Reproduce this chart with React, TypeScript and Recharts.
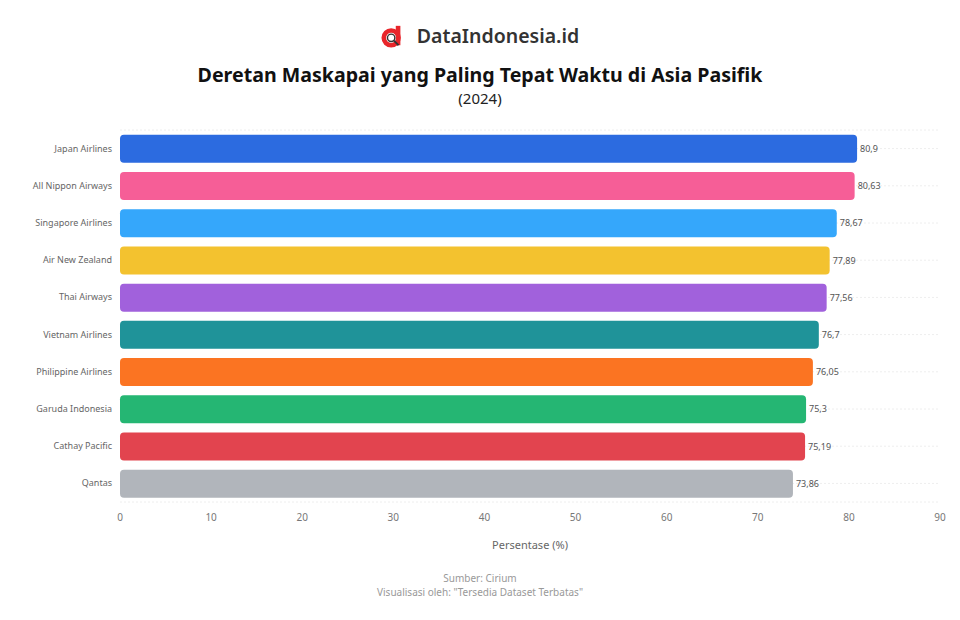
import { BarChart, Bar, XAxis, YAxis, CartesianGrid, Cell, LabelList } from "recharts"

const airlines = [
  "Japan Airlines",
  "All Nippon Airways",
  "Singapore Airlines",
  "Air New Zealand",
  "Thai Airways",
  "Vietnam Airlines",
  "Philippine Airlines",
  "Garuda Indonesia",
  "Cathay Pacific",
  "Qantas",
]
const onTime = [80.9, 80.63, 78.67, 77.89, 77.56, 76.7, 76.05, 75.3, 75.19, 73.86]
const barColors = [
  "#2c6be0",
  "#f65e97",
  "#35a7fb",
  "#f3c22f",
  "#a161dc",
  "#1f9399",
  "#fb7422",
  "#25b673",
  "#e2444f",
  "#b1b5bb",
]
const xTicks = [0, 10, 20, 30, 40, 50, 60, 70, 80, 90]

const data = airlines.map((name, i) => ({ name, value: onTime[i], color: barColors[i] }))

const font = "'Noto Sans', 'Open Sans', sans-serif"

function Logo() {
  return (
    <svg width={24} height={24} viewBox="0 0 26 26">
      <circle cx={11} cy={15} r={8} fill="none" stroke="#e8262b" strokeWidth={5} />
      <rect x={16} y={2} width={5} height={21} fill="#e8262b" />
      <circle cx={11} cy={15} r={4} fill="#fff" stroke="#333" strokeWidth={1.5} />
      <line x1={14} y1={18} x2={19} y2={23} stroke="#333" strokeWidth={2} />
    </svg>
  )
}

function AirlineTick(props: any) {
  const { x, y, payload } = props
  return (
    <text x={x} y={y} dy={3} textAnchor="end" fontSize={9} fill="#666" fontFamily={font}>
      {payload.value}
    </text>
  )
}

export default function App() {
  return (
    <div style={{ position: "absolute", left: 0, top: 0, width: 960, height: 620, background: "#fff", fontFamily: font }}>
      <div style={{ position: "absolute", top: 22, left: 0, width: 960, display: "flex", justifyContent: "center", alignItems: "center", gap: 12 }}>
        <Logo />
        <span style={{ fontSize: 19.5, fontWeight: 600, color: "#333" }}>DataIndonesia.id</span>
      </div>
      <div style={{ position: "absolute", top: 61, width: 960, textAlign: "center", fontSize: 19.6, fontWeight: 700, color: "#111" }}>
        Deretan Maskapai yang Paling Tepat Waktu di Asia Pasifik
      </div>
      <div style={{ position: "absolute", top: 88, width: 960, textAlign: "center", fontSize: 15, color: "#222" }}>
        (2024)
      </div>
      <div style={{ position: "absolute", top: 0, left: 0 }}>
        <BarChart
          width={960}
          height={620}
          data={data}
          layout="vertical"
          margin={{ top: 130, right: 20, bottom: 68, left: 8 }}
          barCategoryGap="13%"
        >
          <CartesianGrid vertical={false} stroke="#eeeeee" strokeDasharray="2 2" />
          <XAxis
            type="number"
            domain={[0, 90]}
            ticks={xTicks}
            axisLine={false}
            tickLine={false}
            tickMargin={6}
            tick={{ fontSize: 10, fill: "#777", fontFamily: font }}
            height={50}
            label={{ value: "Persentase (%)", position: "insideBottom", offset: 3, fontSize: 11, fill: "#666", fontFamily: font }}
          />
          <YAxis
            type="category"
            dataKey="name"
            width={112}
            axisLine={false}
            tickLine={false}
            tick={<AirlineTick />}
          />
          <Bar dataKey="value" radius={[4, 4, 4, 4]} isAnimationActive={false}>
            {data.map((d, i) => (
              <Cell key={i} fill={d.color} />
            ))}
            <LabelList
              dataKey="value"
              position="right"
              offset={3}
              style={{ fontSize: 9, fill: "#555", fontFamily: font }}
              formatter={(v: any) => String(v).replace(".", ",")}
            />
          </Bar>
        </BarChart>
      </div>
      <div style={{ position: "absolute", top: 571, width: 960, textAlign: "center", fontSize: 10, color: "#999", lineHeight: "14px" }}>
        Sumber: Cirium
        <br />
        Visualisasi oleh: "Tersedia Dataset Terbatas"
      </div>
    </div>
  )
}
